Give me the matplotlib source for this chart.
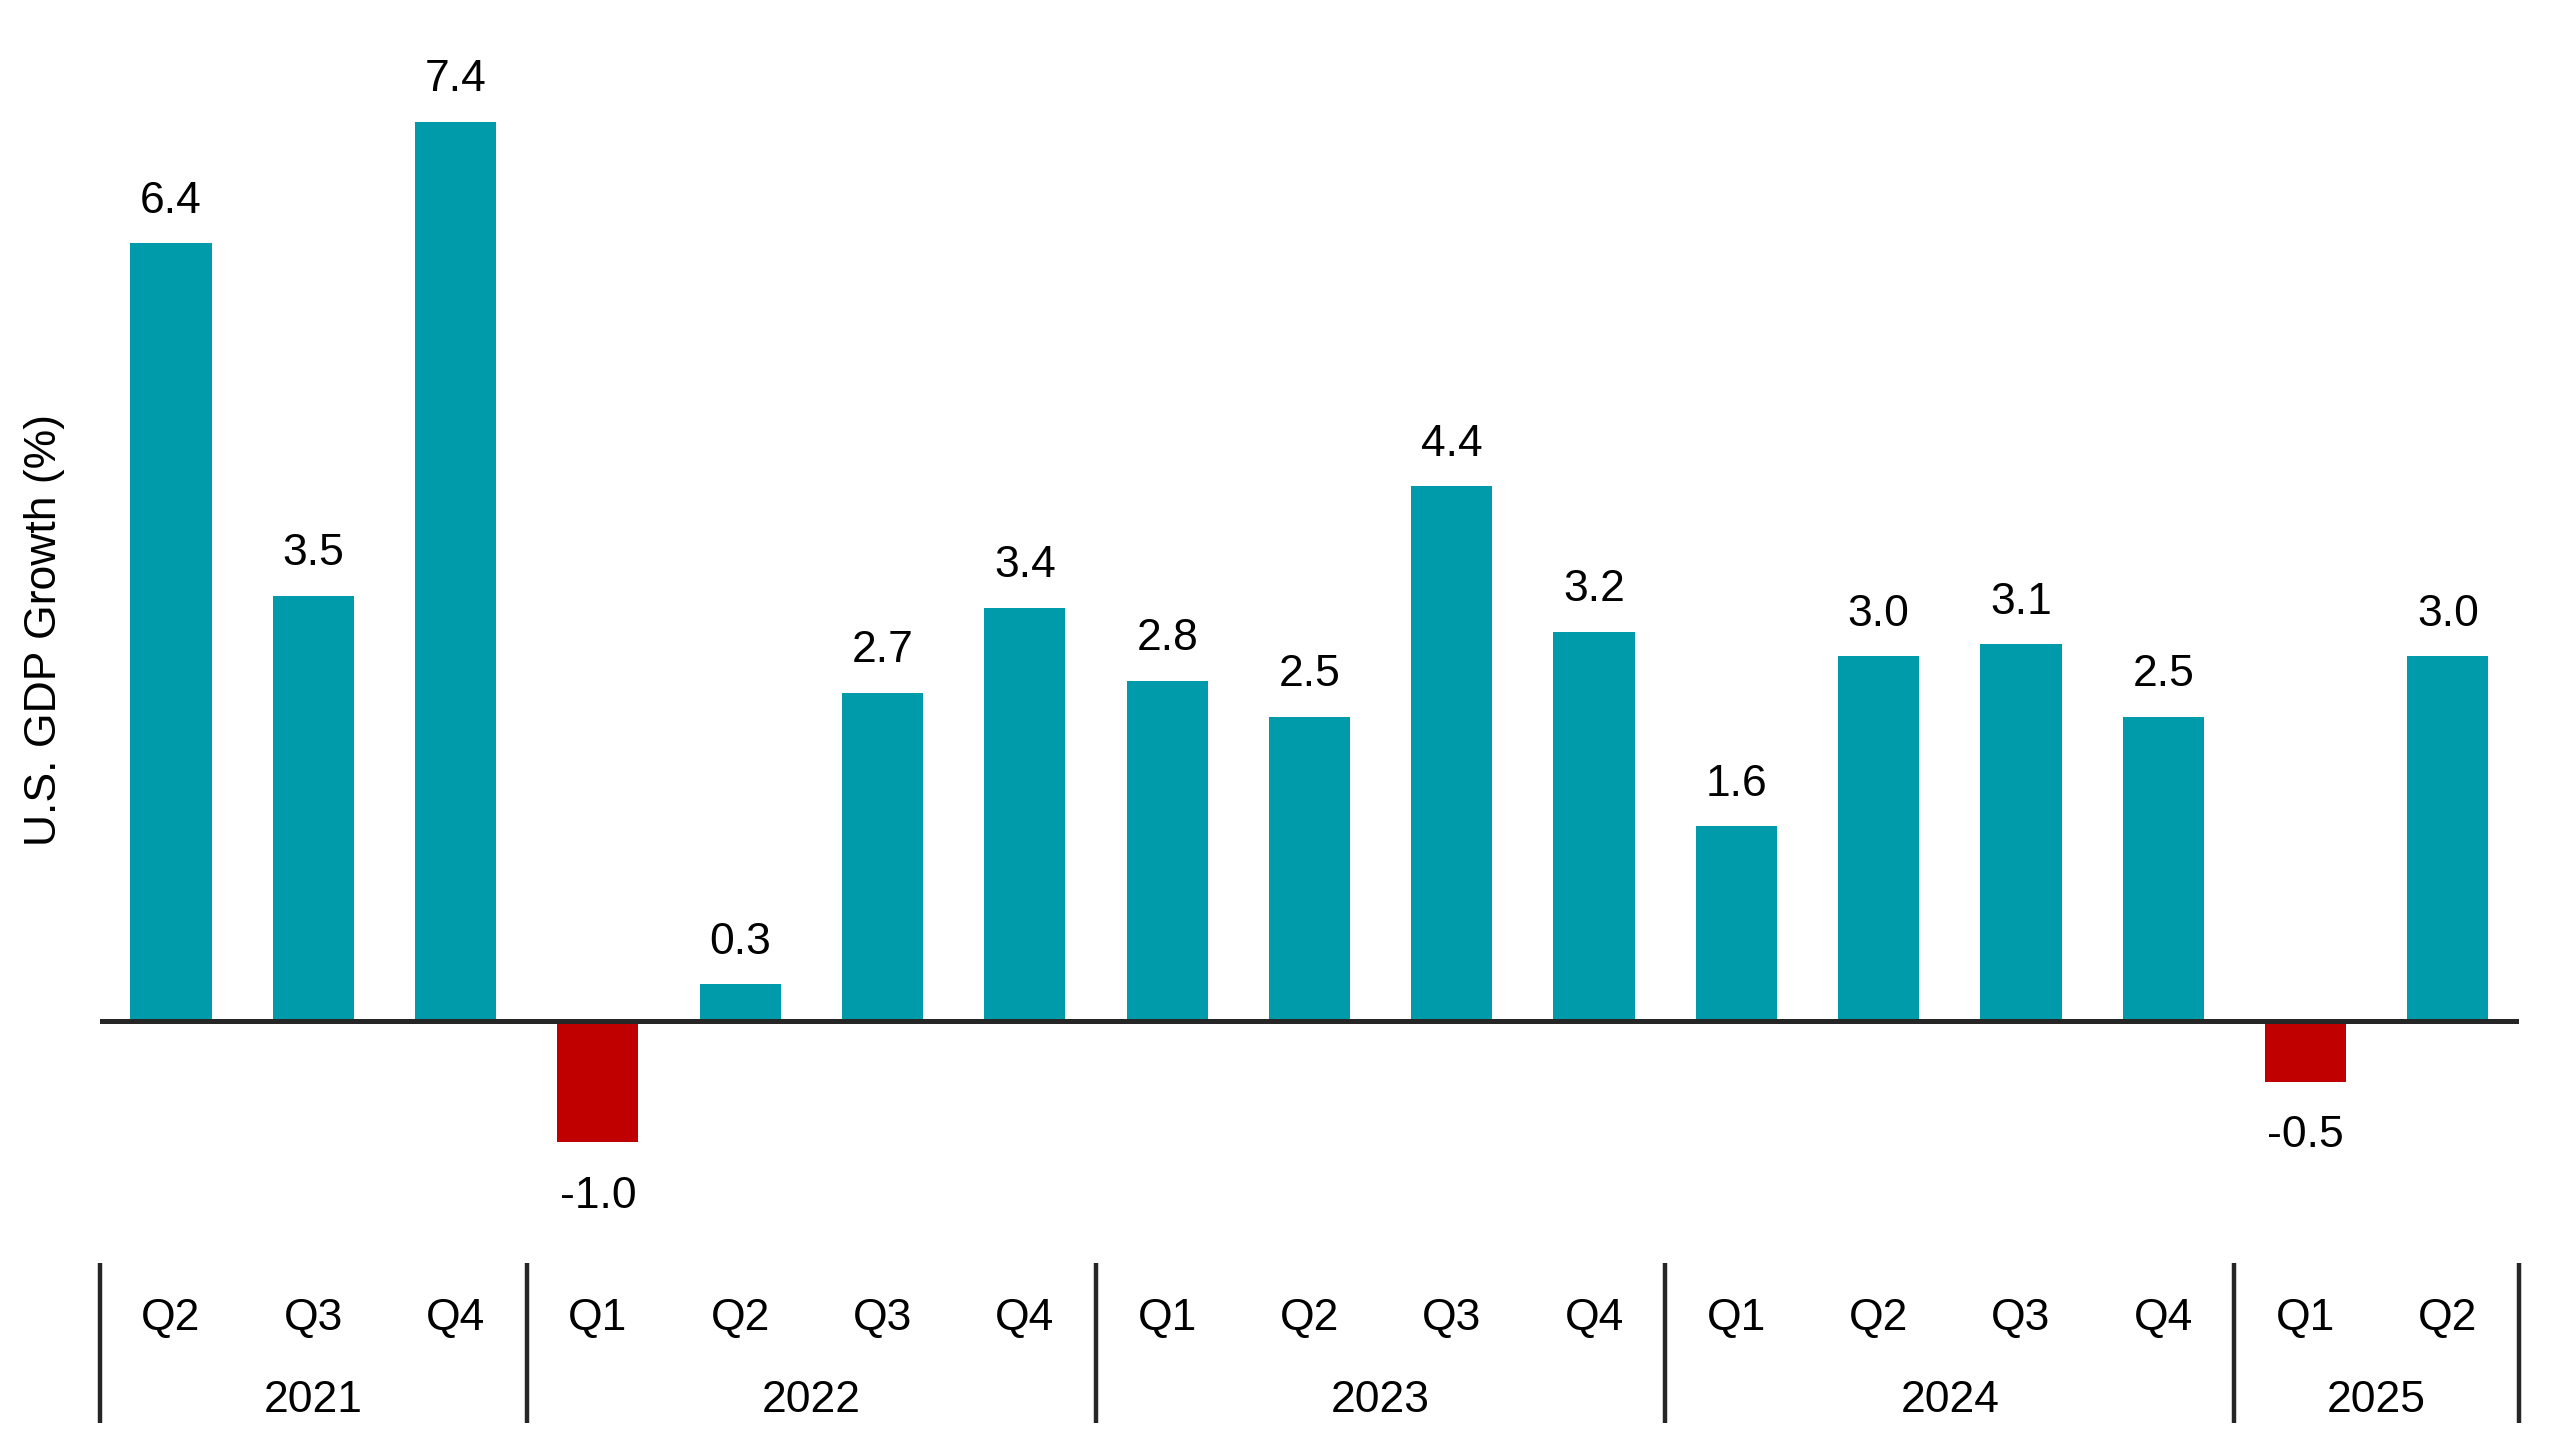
import matplotlib
matplotlib.use('Agg')
import matplotlib.pyplot as plt
import numpy as np

plt.rcParams['font.family'] = ['Liberation Sans', 'DejaVu Sans']

# data
quarters = ['Q2', 'Q3', 'Q4',
            'Q1', 'Q2', 'Q3', 'Q4',
            'Q1', 'Q2', 'Q3', 'Q4',
            'Q1', 'Q2', 'Q3', 'Q4',
            'Q1', 'Q2']
years = ['2021', '2022', '2023', '2024', '2025']
year_counts = [3, 4, 4, 4, 2]
gdp_growth = [6.4, 3.5, 7.4,
              -1.0, 0.3, 2.7, 3.4,
              2.8, 2.5, 4.4, 3.2,
              1.6, 3.0, 3.1, 2.5,
              -0.5, 3.0]

TEAL = '#009BAA'
RED = '#C00000'
AXIS = '#262626'

fig = plt.figure(figsize=(25.6, 14.45), dpi=100)
ax = fig.add_axes([0.039, 0.0, 0.945, 1.0])

x = np.arange(len(gdp_growth))
colors = [TEAL if v >= 0 else RED for v in gdp_growth]
bars = ax.bar(x, gdp_growth, width=0.57, color=colors, zorder=2)

ax.axhline(0, color=AXIS, linewidth=3.6, zorder=3)

ax.set_xlim(-0.5, len(gdp_growth) - 0.5)
ax.set_ylim(-3.49, 8.40)
ax.axis('off')

# value labels
for bar, v in zip(bars, gdp_growth):
    cx = bar.get_x() + bar.get_width() / 2
    if v >= 0:
        ax.annotate(f'{v:.1f}', (cx, v), xytext=(0, 22), textcoords='offset points',
                    ha='center', va='baseline', fontsize=32, color='black')
    else:
        ax.annotate(f'{v:.1f}', (cx, v), xytext=(0, -24), textcoords='offset points',
                    ha='center', va='top', fontsize=32, color='black')

# category axis: quarters, years and separators
for i, q in enumerate(quarters):
    ax.text(i, -2.54, q, ha='center', va='baseline', fontsize=32, color='black', clip_on=False)

start = 0
ax.plot([start - 0.5, start - 0.5], [-1.99, -3.31], color=AXIS, linewidth=3.2, clip_on=False,
        solid_capstyle='butt')
for yr, n in zip(years, year_counts):
    mid = start + (n - 1) / 2
    ax.text(mid, -3.22, yr, ha='center', va='baseline', fontsize=32, color='black', clip_on=False)
    end = start + n - 0.5
    ax.plot([end, end], [-1.99, -3.31], color=AXIS, linewidth=3.2, clip_on=False,
            solid_capstyle='butt')
    start += n

fig.text(0.0172, 0.564, 'U.S. GDP Growth (%)', rotation=90, ha='center', va='center',
         fontsize=32, color='black')

fig.savefig('out.png', dpi=100, facecolor='white')
